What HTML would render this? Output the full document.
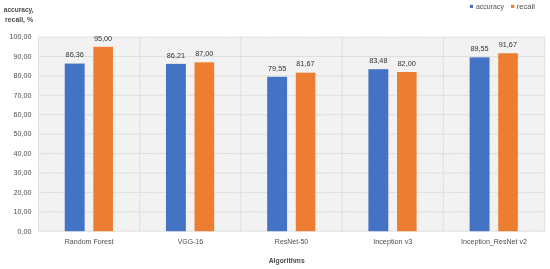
<!DOCTYPE html>
<html><head><meta charset="utf-8"><title>chart</title>
<style>html,body{margin:0;padding:0;background:#fff;}svg{display:block;}text{font-family:"Liberation Sans",sans-serif;}</style>
</head><body>
<svg width="550" height="269" viewBox="0 0 550 269">
<defs><pattern id="h" width="1.77" height="1.77" patternUnits="userSpaceOnUse" patternTransform="rotate(-45)"><rect width="1.77" height="1.77" fill="#fcfcfc"/><rect x="0" y="0" width="0.62" height="1.77" fill="#e0e0e0"/></pattern></defs>
<rect width="550" height="269" fill="#fff"/>
<rect x="38.5" y="37.1" width="506.1" height="194.1" fill="url(#h)"/>
<line x1="38.5" x2="544.6" y1="231.20" y2="231.20" stroke="#d9d9d9" stroke-width="0.8"/>
<line x1="38.5" x2="544.6" y1="211.79" y2="211.79" stroke="#d9d9d9" stroke-width="0.8"/>
<line x1="38.5" x2="544.6" y1="192.38" y2="192.38" stroke="#d9d9d9" stroke-width="0.8"/>
<line x1="38.5" x2="544.6" y1="172.97" y2="172.97" stroke="#d9d9d9" stroke-width="0.8"/>
<line x1="38.5" x2="544.6" y1="153.56" y2="153.56" stroke="#d9d9d9" stroke-width="0.8"/>
<line x1="38.5" x2="544.6" y1="134.15" y2="134.15" stroke="#d9d9d9" stroke-width="0.8"/>
<line x1="38.5" x2="544.6" y1="114.74" y2="114.74" stroke="#d9d9d9" stroke-width="0.8"/>
<line x1="38.5" x2="544.6" y1="95.33" y2="95.33" stroke="#d9d9d9" stroke-width="0.8"/>
<line x1="38.5" x2="544.6" y1="75.92" y2="75.92" stroke="#d9d9d9" stroke-width="0.8"/>
<line x1="38.5" x2="544.6" y1="56.51" y2="56.51" stroke="#d9d9d9" stroke-width="0.8"/>
<line x1="38.5" x2="544.6" y1="37.10" y2="37.10" stroke="#d9d9d9" stroke-width="0.8"/>
<line x1="38.50" x2="38.50" y1="37.1" y2="231.2" stroke="#d9d9d9" stroke-width="0.8"/>
<line x1="139.72" x2="139.72" y1="37.1" y2="231.2" stroke="#d9d9d9" stroke-width="0.8"/>
<line x1="240.94" x2="240.94" y1="37.1" y2="231.2" stroke="#d9d9d9" stroke-width="0.8"/>
<line x1="342.16" x2="342.16" y1="37.1" y2="231.2" stroke="#d9d9d9" stroke-width="0.8"/>
<line x1="443.38" x2="443.38" y1="37.1" y2="231.2" stroke="#d9d9d9" stroke-width="0.8"/>
<line x1="544.60" x2="544.60" y1="37.1" y2="231.2" stroke="#d9d9d9" stroke-width="0.8"/>
<text x="31.4" y="233.50" font-size="7.15" fill="#4d4d4d" text-anchor="end">0,00</text>
<text x="31.4" y="214.09" font-size="7.15" fill="#4d4d4d" text-anchor="end">10,00</text>
<text x="31.4" y="194.68" font-size="7.15" fill="#4d4d4d" text-anchor="end">20,00</text>
<text x="31.4" y="175.27" font-size="7.15" fill="#4d4d4d" text-anchor="end">30,00</text>
<text x="31.4" y="155.86" font-size="7.15" fill="#4d4d4d" text-anchor="end">40,00</text>
<text x="31.4" y="136.45" font-size="7.15" fill="#4d4d4d" text-anchor="end">50,00</text>
<text x="31.4" y="117.04" font-size="7.15" fill="#4d4d4d" text-anchor="end">60,00</text>
<text x="31.4" y="97.63" font-size="7.15" fill="#4d4d4d" text-anchor="end">70,00</text>
<text x="31.4" y="78.22" font-size="7.15" fill="#4d4d4d" text-anchor="end">80,00</text>
<text x="31.4" y="58.81" font-size="7.15" fill="#4d4d4d" text-anchor="end">90,00</text>
<text x="31.4" y="39.40" font-size="7.15" fill="#4d4d4d" text-anchor="end">100,00</text>
<rect x="64.74" y="63.58" width="19.9" height="167.62" fill="#4472c4"/>
<rect x="93.34" y="46.81" width="19.60" height="184.39" fill="#ed7d31"/>
<text x="74.69" y="57.38" font-size="7.25" fill="#303030" text-anchor="middle">86,36</text>
<text x="102.99" y="40.61" font-size="7.25" fill="#303030" text-anchor="middle">95,00</text>
<text x="89.11" y="243.7" font-size="7" fill="#4d4d4d" text-anchor="middle" textLength="48.7" lengthAdjust="spacingAndGlyphs">Random Forest</text>
<rect x="165.96" y="63.87" width="19.9" height="167.33" fill="#4472c4"/>
<rect x="194.56" y="62.33" width="19.60" height="168.87" fill="#ed7d31"/>
<text x="175.91" y="57.67" font-size="7.25" fill="#303030" text-anchor="middle">86,21</text>
<text x="204.21" y="56.13" font-size="7.25" fill="#303030" text-anchor="middle">87,00</text>
<text x="190.33" y="243.7" font-size="7" fill="#4d4d4d" text-anchor="middle" textLength="25.3" lengthAdjust="spacingAndGlyphs">VGG-16</text>
<rect x="267.18" y="76.79" width="19.9" height="154.41" fill="#4472c4"/>
<rect x="295.78" y="72.68" width="19.60" height="158.52" fill="#ed7d31"/>
<text x="277.13" y="70.59" font-size="7.25" fill="#303030" text-anchor="middle">79,55</text>
<text x="305.43" y="66.48" font-size="7.25" fill="#303030" text-anchor="middle">81,67</text>
<text x="291.55" y="243.7" font-size="7" fill="#4d4d4d" text-anchor="middle" textLength="33.4" lengthAdjust="spacingAndGlyphs">ResNet-50</text>
<rect x="368.40" y="69.17" width="19.9" height="162.03" fill="#4472c4"/>
<rect x="397.00" y="72.04" width="19.60" height="159.16" fill="#ed7d31"/>
<text x="378.35" y="62.97" font-size="7.25" fill="#303030" text-anchor="middle">83,48</text>
<text x="406.65" y="65.84" font-size="7.25" fill="#303030" text-anchor="middle">82,00</text>
<text x="392.77" y="243.7" font-size="7" fill="#4d4d4d" text-anchor="middle" textLength="39.2" lengthAdjust="spacingAndGlyphs">Inception v3</text>
<rect x="469.62" y="57.38" width="19.9" height="173.82" fill="#4472c4"/>
<rect x="498.22" y="53.27" width="19.60" height="177.93" fill="#ed7d31"/>
<text x="479.57" y="51.18" font-size="7.25" fill="#303030" text-anchor="middle">89,55</text>
<text x="507.87" y="47.07" font-size="7.25" fill="#303030" text-anchor="middle">91,67</text>
<text x="493.99" y="243.7" font-size="7" fill="#4d4d4d" text-anchor="middle" textLength="66" lengthAdjust="spacingAndGlyphs">Inception_ResNet v2</text>
<text x="18.7" y="12.05" font-size="7" font-weight="bold" fill="#4a4a4a" text-anchor="middle" textLength="29.8" lengthAdjust="spacingAndGlyphs">accuracy,</text>
<text x="19.1" y="22.1" font-size="7" font-weight="bold" fill="#4a4a4a" text-anchor="middle" textLength="28" lengthAdjust="spacingAndGlyphs">recall, %</text>
<text x="286.7" y="262.6" font-size="7" font-weight="bold" fill="#4a4a4a" text-anchor="middle" textLength="36" lengthAdjust="spacingAndGlyphs">Algorithms</text>
<rect x="469.8" y="4.8" width="3.2" height="3.2" fill="#4472c4"/>
<text x="475.9" y="8.55" font-size="7" fill="#4d4d4d" textLength="28" lengthAdjust="spacingAndGlyphs">accuracy</text>
<rect x="511" y="4.8" width="3.2" height="3.2" fill="#ed7d31"/>
<text x="516.8" y="8.55" font-size="7" fill="#4d4d4d" textLength="18.2" lengthAdjust="spacingAndGlyphs">recall</text>
</svg></body></html>
